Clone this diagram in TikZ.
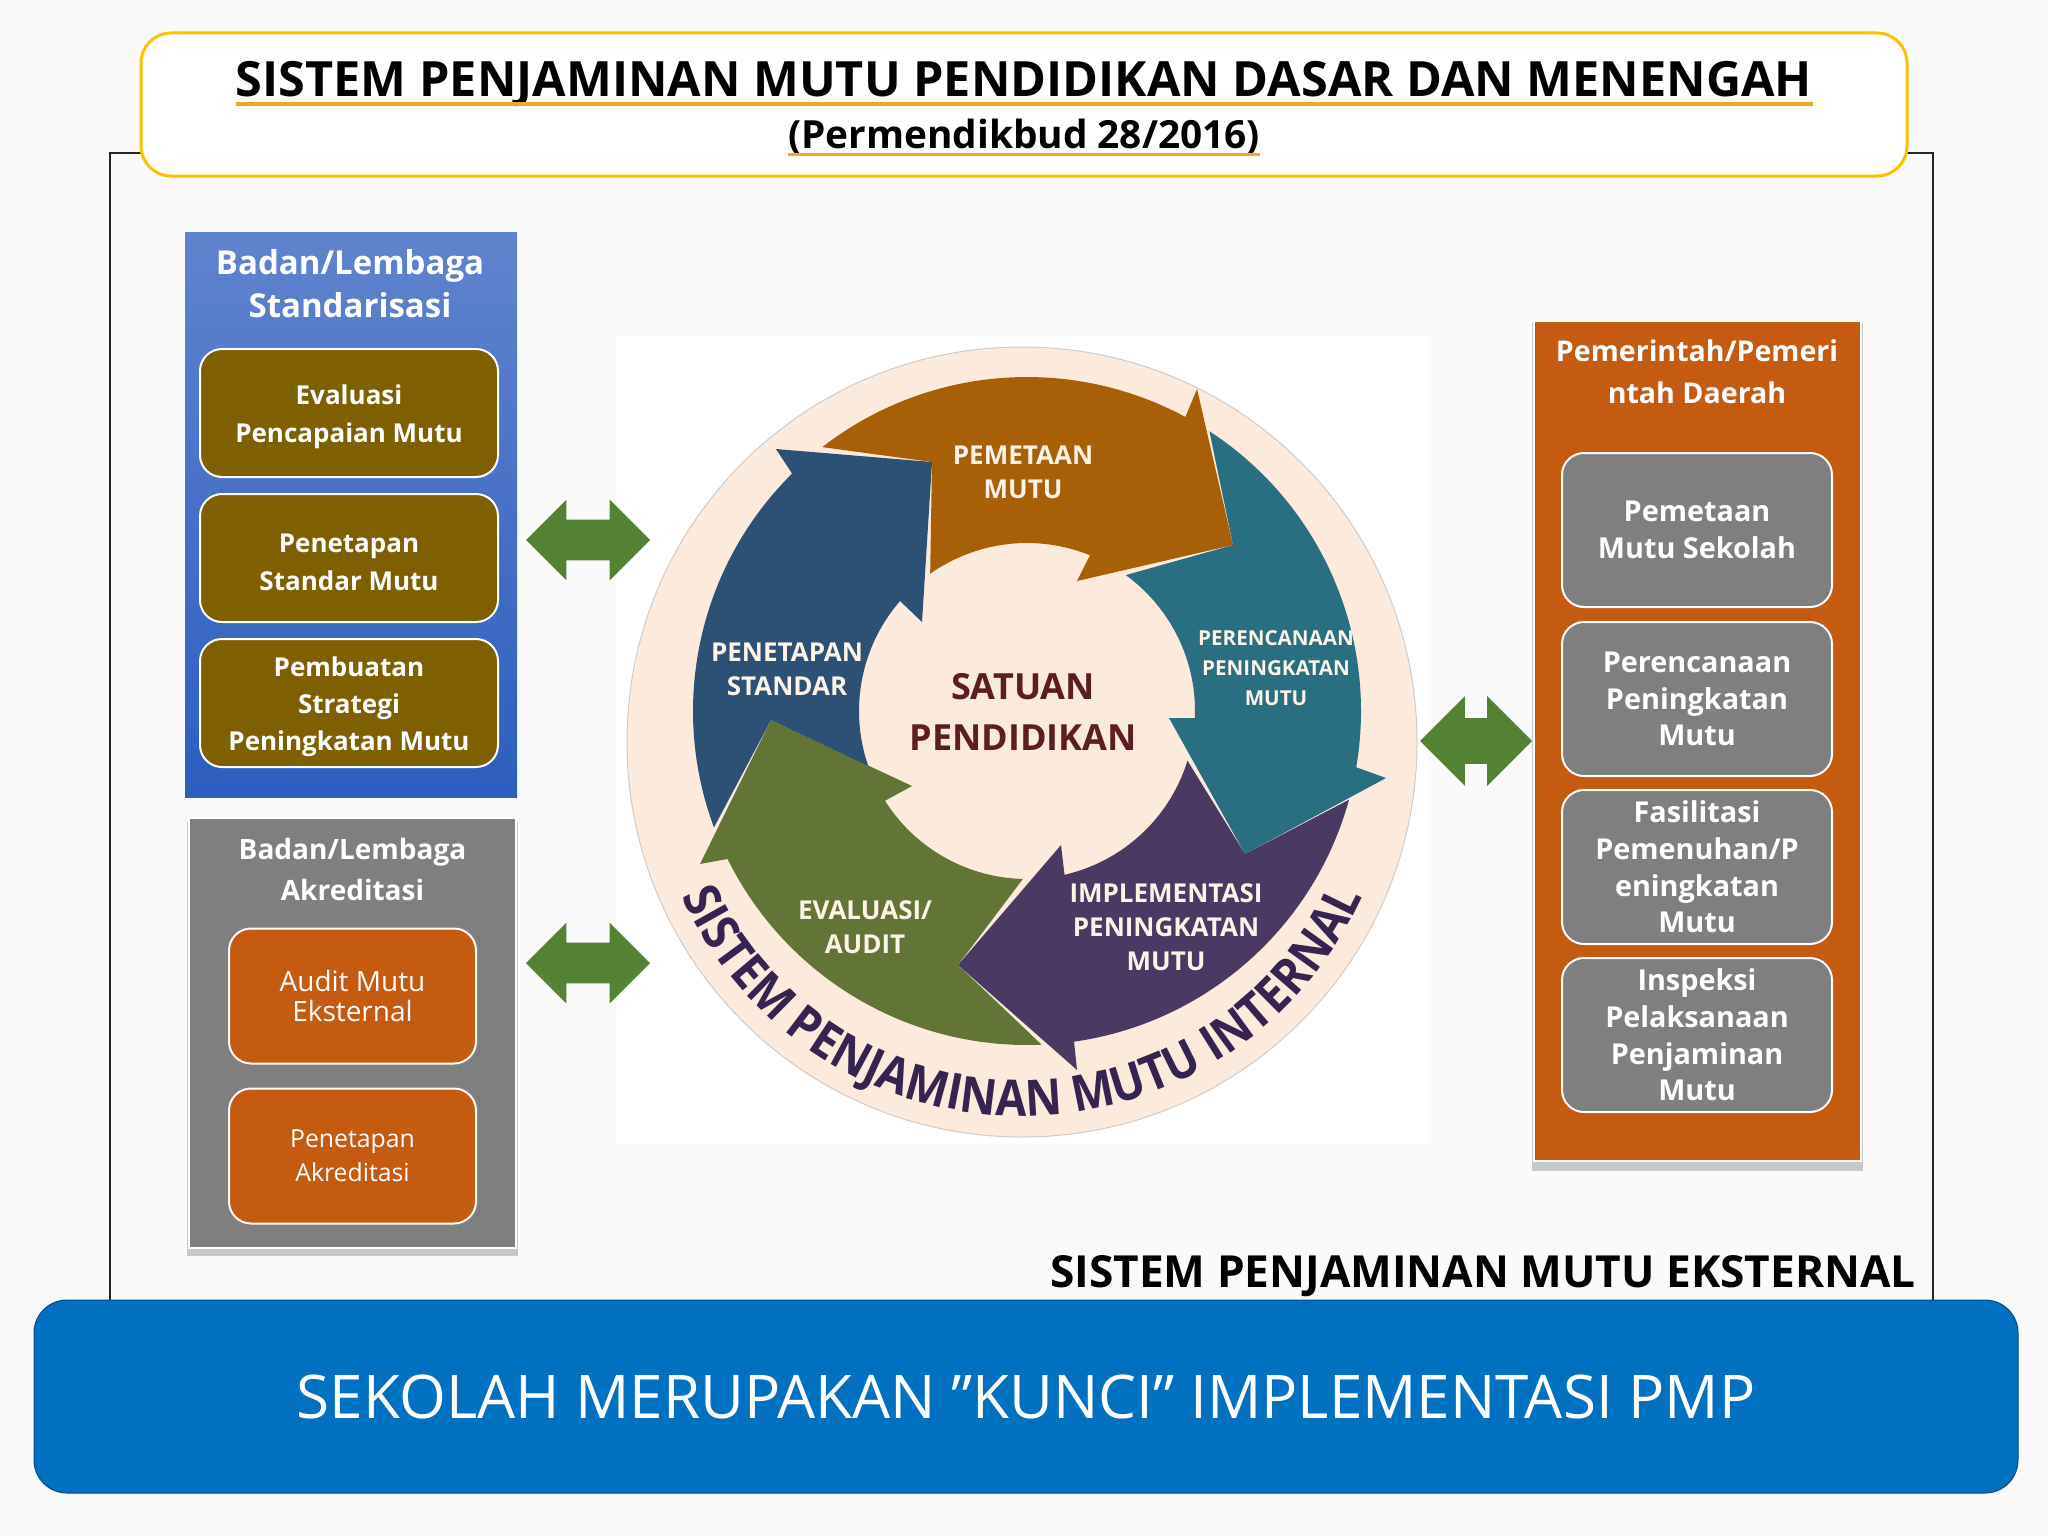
\documentclass[tikz,border=0pt]{standalone}
\usepackage{fontspec}
\setmainfont{Open Sans}
\usetikzlibrary{shadows,shapes.arrows,decorations.text}
\definecolor{pagebg}{HTML}{FAFAFB}
\definecolor{goldline}{HTML}{FFC000}
\definecolor{titleline}{HTML}{F0A820}
\definecolor{olivebox}{HTML}{7F6000}
\definecolor{greybox}{HTML}{7F7F7F}
\definecolor{rustbox}{HTML}{C55A11}
\definecolor{twoway}{HTML}{548235}
\definecolor{disc}{HTML}{FCEADC}
\definecolor{ringtext}{HTML}{35244F}
\definecolor{coretext}{HTML}{5E1E1E}
\definecolor{cream}{HTML}{FDF3E7}
\definecolor{barblue}{HTML}{0070C0}
\definecolor{arOrange}{HTML}{A86008}
\definecolor{arTeal}{HTML}{2A6E82}
\definecolor{arPurple}{HTML}{4A3A63}
\definecolor{arGreen}{HTML}{637536}
\definecolor{arBlue}{HTML}{2D5075}
\tikzstyle{panel}=[draw=white, line width=1pt, inner sep=0pt,
	drop shadow={shadow xshift=0pt,shadow yshift=-3pt,shadow scale=1.01,opacity=.2,fill=black}]
\tikzstyle{itembox}=[draw=white, line width=1pt, rounded corners=11pt, inner sep=0pt,
	text=white, align=center, font=\bfseries]
\tikzstyle{oliveitem}=[itembox, fill=olivebox, minimum width=149pt, minimum height=64pt,
	font=\fontsize{13}{18.7}\selectfont\bfseries]
\tikzstyle{rustitem}=[itembox, fill=rustbox, minimum width=123.5pt, minimum height=67.5pt]
\tikzstyle{greyitem}=[itembox, fill=greybox, minimum width=135pt, minimum height=77pt,
	font=\fontsize{14.4}{18.3}\selectfont\bfseries]
\tikzstyle{paneltitle}=[text=white, align=center, inner sep=0pt]
\tikzstyle{twoarrow}=[double arrow, fill=twoway, inner xsep=0pt, inner ysep=10pt, double arrow tip angle=90,
	double arrow head extend=10pt, minimum width=40pt, minimum height=62pt]
\tikzstyle{steplabel}=[text=cream, align=center, inner sep=0pt,
	font=\fontsize{13}{17}\selectfont\bfseries]
\newcommand{\oliveBox}[2]{node (o#1) [oliveitem] {\rule{0pt}{13.7pt}#2}}
\newcommand{\greyBox}[2]{node (g#1) [greyitem] {#2}}
\begin{document}
\begin{tikzpicture}[x=0.5pt,y=-0.5pt]
	\fill[pagebg] (0,0) rectangle (2048,1536);
	\useasboundingbox (0,0) rectangle (2048,1536);

	% Outer frame and title
	\draw[black!85, line width=0.75pt] (110,1300) -- (110,153) -- (1933,153) -- (1933,1300);
	\node (head) [draw=goldline, fill=white, line width=1.5pt, rounded corners=15pt, inner sep=0pt,
		minimum width=883pt, minimum height=71.5pt] at (1024,104.5) {};
	\node (ttl) [inner sep=0pt, font=\fontsize{24.3}{26}\selectfont\bfseries] at (1024,84)
		{SISTEM PENJAMINAN MUTU PENDIDIKAN DASAR DAN MENENGAH};
	\node (sub) [inner sep=0pt, font=\fontsize{19.4}{22}\selectfont\bfseries] at (1024,137)
		{(Permendikbud 28/2016)};
	\draw[titleline, line width=2pt] (ttl.west |- 0,104) -- (ttl.east |- 0,104);
	\draw[titleline, line width=1.5pt] (sub.west |- 0,154) -- (sub.east |- 0,154);

	% Left column, upper panel
	\node (bluep) [inner sep=0pt, top color={rgb,255:red,96;green,131;blue,205},
		bottom color={rgb,255:red,45;green,94;blue,190},
		minimum width=166pt, minimum height=282.5pt] at (351,514.5) {};
	\node (bluet) [paneltitle, font=\fontsize{16.5}{21.5}\selectfont\bfseries] at (350,284)
		{Badan/Lembaga\\Standarisasi};
	\path (349,413) \oliveBox{1}{Evaluasi\\Pencapaian Mutu};
	\path (o1)+(0,145) \oliveBox{2}{Penetapan\\Standar Mutu};
	\path (o2)+(0,145) \oliveBox{3}{Pembuatan\\Strategi\\Peningkatan Mutu};

	% Left column, lower panel
	\node (greyp) [panel, fill=greybox, minimum width=163.5pt, minimum height=215pt] at (352.5,1033) {};
	\node (greyt) [paneltitle, font=\fontsize{14}{20.5}\selectfont\bfseries] at (352.5,869)
		{Badan/Lembaga\\Akreditasi};
	\node (audit) [rustitem, font=\fontsize{14}{15}\selectfont] at (352.5,996) {Audit Mutu\\Eksternal};
	\node (akred) [rustitem, font=\fontsize{12.4}{17}\selectfont] at (352.5,1156) {Penetapan\\Akreditasi};

	% Right column
	\node (rustp) [panel, fill=rustbox, minimum width=163.5pt, minimum height=420pt] at (1697.5,740.5) {};
	\node (rustt) [paneltitle, font=\fontsize{14.3}{21}\selectfont\bfseries] at (1697,372)
		{Pemerintah/Pemeri\\ntah Daerah};
	\path (1697,530) \greyBox{1}{Pemetaan\\Mutu Sekolah};
	\path (g1)+(0,169) \greyBox{2}{Perencanaan\\Peningkatan\\Mutu};
	\path (g2)+(0,168) \greyBox{3}{Fasilitasi\\Pemenuhan/P\\eningkatan\\Mutu};
	\path (g3)+(0,168) \greyBox{4}{Inspeksi\\Pelaksanaan\\Penjaminan\\Mutu};

	% Disc behind the cycle
	\node (square) [fill=white, inner sep=0pt, minimum width=406pt, minimum height=404pt] at (1022,740) {};
	\node (round) [circle, fill=disc, draw=gray!40, line width=.5pt, inner sep=0pt, minimum size=395pt] at (1022,742) {};

	% Two way arrows
	\node (a1) [twoarrow] at (588,540) {};
	\node (a2) [twoarrow] at (588,963) {};
	\node (a3) [twoarrow, inner ysep=11.25pt, minimum height=56pt, minimum width=44.5pt,
		double arrow head extend=11pt] at (1476,741) {};

	% The five arrows of the cycle
	\begin{scope}[shift={(1027,711)},y=0.5pt]
		\fill[arOrange] (127.8:334) arc[start angle=127.8,end angle=61.7,radius=167pt]
			-- (170,322) -- (206,166) -- (50,130) -- (68:168)
			arc[start angle=68,end angle=125.2,radius=84pt] -- (-95,249) -- cycle;
		\fill[arTeal] (56.9:334) arc[start angle=56.9,end angle=-9.7,radius=167pt]
			-- (359,-67) -- (218,-143) -- (142,-7) -- (-2.4:168)
			arc[start angle=-2.4,end angle=54,radius=84pt] -- (206,166) -- cycle;
		\fill[arPurple] (-15.4:334) arc[start angle=-15.4,end angle=-81.9,radius=167pt]
			-- (50,-359) -- (-69,-254) -- (34,-134) -- (-77.1:168)
			arc[start angle=-77.1,end angle=-17.2,radius=84pt] -- (218,-143) -- cycle;
		\fill[arGreen] (-87.5:334) arc[start angle=-87.5,end angle=-153.7,radius=167pt]
			-- (-327,-153) -- (-256,-9) -- (-115,-75) -- (-147.7:168)
			arc[start angle=-147.7,end angle=-91.4,radius=84pt] -- (-69,-254) -- cycle;
		\fill[arBlue] (-159.6:334) arc[start angle=-159.6,end angle=-225.3,radius=167pt]
			-- (-251,262) -- (-95,249) -- (-105,89) -- (-220.9:168)
			arc[start angle=-220.9,end angle=-160.9,radius=84pt] -- (-256,-9) -- cycle;
	\end{scope}

	% Labels on the cycle
	\node (l1) [steplabel] at (1023,472) {PEMETAAN\\MUTU};
	\node (l2) [steplabel, font=\fontsize{10.3}{15}\selectfont\bfseries] at (1276,668) {PERENCANAAN\\PENINGKATAN\\MUTU};
	\node (l3) [steplabel] at (1166,927) {IMPLEMENTASI\\PENINGKATAN\\MUTU};
	\node (l4) [steplabel] at (865,927) {EVALUASI/\\AUDIT};
	\node (l5) [steplabel] at (787,669) {PENETAPAN\\STANDAR};
	\node (core) [text=coretext, align=center, inner sep=0pt, font=\fontsize{18}{25.5}\selectfont\bfseries]
		at (1023,712) {SATUAN\\PENDIDIKAN};

	% Label along the disc
	\begin{scope}[shift={(1022,742)},y=0.5pt]
		\path[decorate, decoration={text along path, text align=center,
			text={|\fontsize{25}{27}\selectfont\bfseries\addfontfeature{FakeStretch=0.905}\color{ringtext}|SISTEM PENJAMINAN MUTU INTERNAL}}]
			(205:374) arc[start angle=205,end angle=335,radius=187pt];
	\end{scope}

	% Bottom
	\node (ext) [inner sep=0pt, font=\fontsize{22.1}{24}\selectfont\bfseries] at (1483,1276)
		{SISTEM PENJAMINAN MUTU EKSTERNAL};
	\node (bar) [draw=barblue!70!black, fill=barblue, line width=0.5pt, rounded corners=16.5pt, inner sep=0pt,
		minimum width=992pt, minimum height=96.5pt, text=white, font=\fontsize{30.1}{32}\selectfont]
		at (1026,1396.5) {\raisebox{-1pt}{SEKOLAH MERUPAKAN ”KUNCI” IMPLEMENTASI PMP}};
\end{tikzpicture}
\end{document}
